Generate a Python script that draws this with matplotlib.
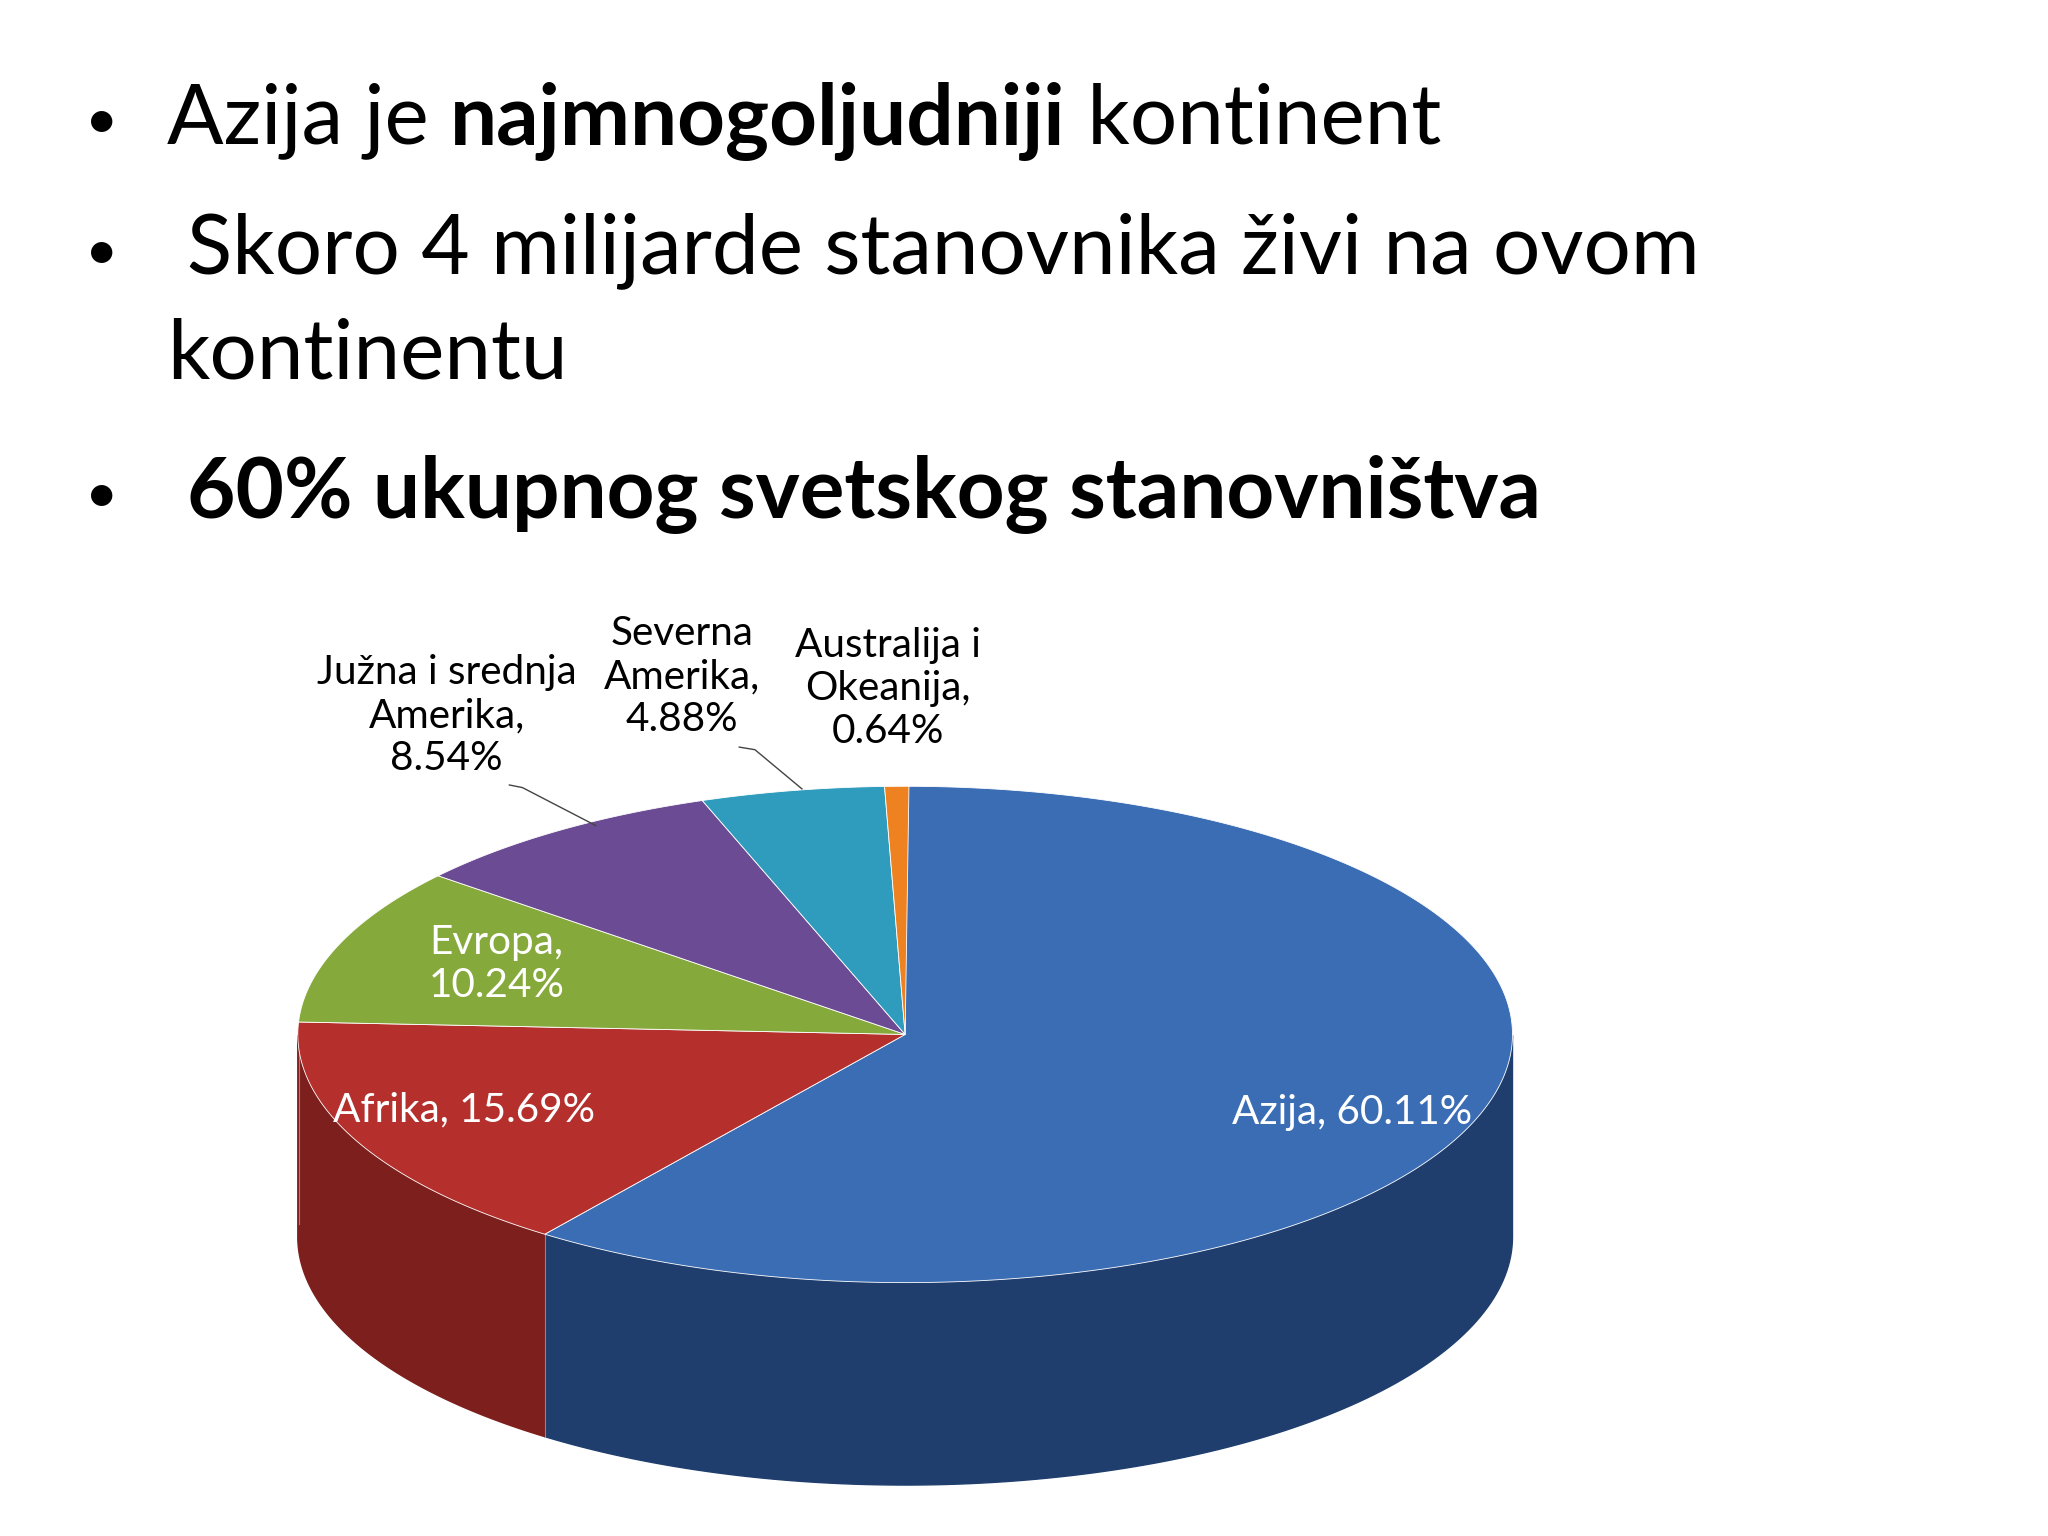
import numpy as np
import matplotlib.pyplot as plt
from matplotlib.patches import Polygon

plt.rcParams['font.family'] = ['Lato', 'DejaVu Sans']

# Podaci
continents = ['Azija', 'Afrika', 'Evropa', 'Južna i srednja\nAmerika', 'Severna\nAmerika', 'Australija i\nOkeanija']
shares = [60.11, 15.69, 10.24, 8.54, 4.88, 0.64]
separators = [', ', ', ', ',\n', ',\n', ',\n', ',\n']
top_colors = ['#3b6db5', '#b5302d', '#86a93b', '#6b4b93', '#2f9bbd', '#ee8220']
side_colors = ['#1f3e6d', '#7c1f1d', '#55702a', '#45305f', '#1d6580', '#a55612']

fig = plt.figure(figsize=(20.48, 15.36), dpi=100)
ax = fig.add_axes([0, 0, 1, 1])
W, H = 1568, 1176
ax.set_xlim(0, W)
ax.set_ylim(H, 0)
ax.axis('off')

S = 2048 / W  # display px -> figure px


def fs(px):
    # velicina fonta iz visine em-a u prikaznim pikselima
    return px * S * 72 / 100


# Tekst sa buletima
renderer = fig.canvas.get_renderer()


def line(x, y, parts, size):
    for txt, bold in parts:
        t = ax.text(x, y, txt, fontsize=fs(size), va='center', ha='left',
                    fontweight='bold' if bold else 'normal')
        bb = t.get_window_extent(renderer)
        x += bb.width / S


for y in [92, 192, 378]:
    ax.text(78, y + 2, '•', fontsize=fs(44), va='center', ha='center')
line(128, 92, [('Azija je ', False), ('najmnogoljudniji', True), (' kontinent', False)], 64)
line(143, 192, [('Skoro 4 milijarde stanovnika živi na ovom', False)], 64)
line(128, 272, [('kontinentu', False)], 64)
line(143, 378, [('60% ukupnog svetskog stanovništva', True)], 64)

# 3D pita
cx, cy, rx, ry, depth = 693, 792, 465, 190, 155
angles = 90 - np.cumsum([0] + shares) * 3.6


def pt(t, dy=0):
    r = np.radians(t)
    return cx + rx * np.cos(r), cy - ry * np.sin(r) + dy


# bocne strane (samo prednja polovina)
for i in range(len(shares)):
    a1, a2 = angles[i + 1], angles[i]
    ts = np.linspace(a1, a2, 200)
    ts = ts[np.sin(np.radians(ts)) <= 0.0]
    if len(ts) < 2:
        continue
    top = [pt(t) for t in ts]
    bot = [pt(t, depth) for t in ts[::-1]]
    ax.add_patch(Polygon(top + bot, closed=True, fc=side_colors[i], ec=side_colors[i], lw=1, zorder=2))
    x0, y0 = pt(a1)
    ax.plot([x0, x0], [y0, y0 + depth], color='white', lw=0.8, alpha=0.4, zorder=3)

# gornje povrsine
for i in range(len(shares)):
    ts = np.linspace(angles[i + 1], angles[i], 300)
    pts = [(cx, cy)] + [pt(t) for t in ts]
    ax.add_patch(Polygon(pts, closed=True, fc=top_colors[i], ec='white', lw=0.6, zorder=4))

# oznake
lab_pos = [(1035, 852, 'white'), (355, 850, 'white'), (380, 738, 'white'),
           (342, 548, 'black'), (522, 518, 'black'), (680, 527, 'black')]
for (x, y, c), name, sep, v in zip(lab_pos, continents, separators, shares):
    ax.text(x, y, f'{name}{sep}{v:.2f}%', fontsize=fs(31), color=c, ha='center',
            va='center', linespacing=1.2, zorder=6)

ax.plot([390, 400, 456], [601, 603, 632], color='#444444', lw=1, zorder=6)
ax.plot([566, 578, 614], [572, 574, 604], color='#444444', lw=1, zorder=6)

fig.savefig('out.png', dpi=100, facecolor='white')
